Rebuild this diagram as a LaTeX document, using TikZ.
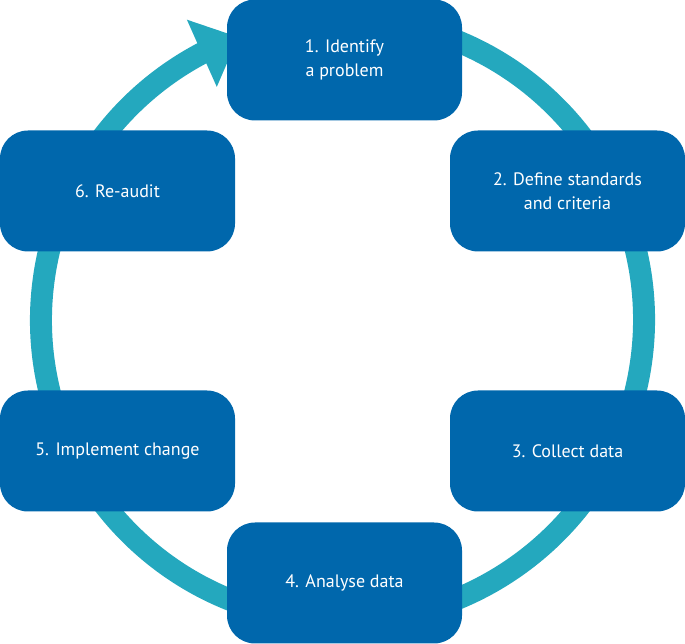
\documentclass[tikz,border=0pt]{standalone}
\usepackage{fontspec}
\setmainfont{PT Sans}
\usetikzlibrary{arrows.meta,bending,calc}
\definecolor{boxblue}{RGB}{0,103,172}
\definecolor{ringteal}{RGB}{36,168,190}
\tikzset{
  stagebox/.style={fill=boxblue, draw=none, rounded corners=28pt,
    minimum width=235pt, minimum height=121pt, text=white,
    font=\fontsize{18}{24}\selectfont, align=center, inner sep=0pt},
  ring/.style={draw=ringteal, line width=22pt,
    -{Triangle[length=40pt,width=71pt,color=ringteal]}}
}
\begin{document}
\begin{tikzpicture}[x=1pt,y=1pt]
\useasboundingbox (0,0) rectangle (685,644);
\coordinate (c) at (342.5,324);
\coordinate (ringstart) at ($(c)+(80:301.5)$);
\draw[ring] (ringstart) arc[start angle=80, end angle=-249.8, radius=301.5];
\node[stagebox] (s1) at (344.5,584) {1. Identify\\a problem};
\node[stagebox] (s2) at (567.5,453) {2. Define standards\\and criteria};
\node[stagebox] (s3) at (567.5,193) {3. Collect data};
\node[stagebox] (s4) at (344.5,61) {4. Analyse data};
\node[stagebox] (s5) at (117.5,193) {5. Implement change};
\node[stagebox] (s6) at (117.5,453) {6. Re-audit};
\end{tikzpicture}
\end{document}
